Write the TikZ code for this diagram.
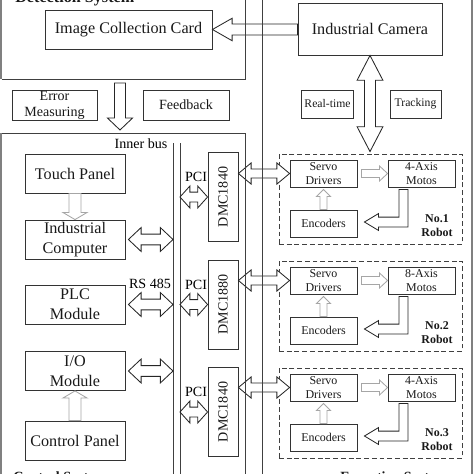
\documentclass[tikz,border=0pt]{standalone}
\usepackage{fontspec}
\usepackage{graphicx}
\setmainfont{Liberation Serif}
\usetikzlibrary{calc}

\tikzset{
  box/.style={draw=black!80, line width=0.6pt, inner sep=0pt, align=center, text=black!90},
  bigtxt/.style={font=\fontsize{11.5}{14}\selectfont},
  midtxt/.style={font=\fontsize{10}{11.5}\selectfont},
  smalltxt/.style={font=\fontsize{8.5}{9.5}\selectfont},
  hollow/.style={draw=black!85, fill=white, line width=0.6pt, line join=miter},
  lighthollow/.style={draw=black!35, fill=white, line width=0.6pt, line join=miter},
  robotbox/.style={draw=black!75, dash pattern=on 3.5pt off 2pt, line width=0.6pt,
    minimum width=4.575cm, minimum height=2.25cm, inner sep=0pt},
  frame/.style={draw=black!75, line width=0.6pt},
  edgeline/.style={draw=black!50, line width=1.8pt},
  systxt/.style={inner sep=0pt, text=black!90},
}

% hollow arrows: #1 style, #2 start, #3 tip, #4 head length, #5 head half width, #6 shaft half width
\newcommand{\hollowH}[6]{%
  \draw[#1] let \p1=#2, \p2=#3, \p3=($#3!#4!#2$) in
    (\x1,\y2+#6) -- (\x3,\y2+#6) -- (\x3,\y2+#5) -- (\p2) -- (\x3,\y2-#5)
    -- (\x3,\y2-#6) -- (\x1,\y2-#6) -- cycle;}
\newcommand{\hollowV}[6]{%
  \draw[#1] let \p1=#2, \p2=#3, \p3=($#3!#4!#2$) in
    (\x2+#6,\y1) -- (\x2+#6,\y3) -- (\x2+#5,\y3) -- (\p2) -- (\x2-#5,\y3)
    -- (\x2-#6,\y3) -- (\x2-#6,\y1) -- cycle;}
\newcommand{\dhollowH}[6]{%
  \draw[#1] let \p1=#2, \p2=#3, \p3=($#3!#4!#2$), \p4=($#2!#4!#3$) in
    (\p1) -- (\x4,\y1+#5) -- (\x4,\y1+#6) -- (\x3,\y1+#6) -- (\x3,\y1+#5) -- (\x2,\y1)
    -- (\x3,\y1-#5) -- (\x3,\y1-#6) -- (\x4,\y1-#6) -- (\x4,\y1-#5) -- cycle;}
\newcommand{\dhollowV}[6]{%
  \draw[#1] let \p1=#2, \p2=#3, \p3=($#3!#4!#2$), \p4=($#2!#4!#3$) in
    (\p1) -- (\x1+#5,\y4) -- (\x1+#6,\y4) -- (\x1+#6,\y3) -- (\x1+#5,\y3) -- (\x1,\y2)
    -- (\x1-#5,\y3) -- (\x1-#6,\y3) -- (\x1-#6,\y4) -- (\x1-#5,\y4) -- cycle;}

\begin{document}
\begin{tikzpicture}[x=0.025cm, y=-0.025cm]
	\useasboundingbox (0,0) rectangle (474,474);
	\clip (0,0) rectangle (474,474);
	% detection system
	\node[box,bigtxt,minimum width=4.175cm,minimum height=0.975cm] (icc) at (128.5,29.5) {Image Collection Card};
	\node[box,bigtxt,minimum width=3.6cm,minimum height=1.3cm] (cam) at (370,29) {Industrial Camera};
	\node[box,midtxt,minimum width=2.125cm,minimum height=0.75cm] (err) at (54.5,105) {Error\\Measuring};
	\node[box,midtxt,minimum width=2.15cm,minimum height=0.75cm] (fb) at (186,105) {Feedback};
	\node[box,font=\fontsize{8.3}{10}\selectfont,minimum width=1.3cm,minimum height=0.7cm] (rt) at (327.5,104) {Real-time};
	\node[box,font=\fontsize{8.3}{10}\selectfont,minimum width=1.275cm,minimum height=0.7cm] (tr) at (415.5,104) {Tracking};
	% control system
	\node[box,bigtxt,minimum width=2.5cm,minimum height=0.975cm] (tp) at (75,173.5) {Touch Panel};
	\node[box,bigtxt,minimum width=2.5cm,minimum height=0.975cm] (ic) at (75,239.5) {Industrial\\Computer};
	\node[box,bigtxt,minimum width=2.5cm,minimum height=0.975cm] (plc) at (75,304.5) {PLC\\Module};
	\node[box,bigtxt,minimum width=2.5cm,minimum height=0.975cm] (io) at (75,371) {I/O\\Module};
	\node[box,bigtxt,minimum width=2.5cm,minimum height=0.975cm] (cp) at (75,440.5) {Control Panel};
	\node[midtxt] (bustxt) at (141,144) {Inner bus};
	\node[midtxt] (rs) at (150,284) {RS 485};
	\coordinate (bus1) at (173,143);
	\coordinate (bus2) at (180,143);
	\draw[frame] (bus1) -- (173,480);
	\draw[frame] (bus2) -- (180,480);
	\hollowV{lighthollow}{(tp.south)}{(ic.north)}{5pt}{8.5pt}{4.3pt}
	\hollowV{lighthollow}{(cp.north)}{(io.south)}{5pt}{8.5pt}{4.3pt}
	\coordinate (icA) at ($(ic.east)+(3,0)$);
	\coordinate (plcA) at ($(plc.east)+(3,0)$);
	\coordinate (ioA) at ($(io.east)+(3,0)$);
	\dhollowH{hollow}{(icA)}{(ic.east -| bus1)}{9pt}{8.5pt}{3.8pt}
	\dhollowH{hollow}{(plcA)}{(plc.east -| bus1)}{9pt}{8.5pt}{3.8pt}
	\dhollowH{hollow}{(ioA)}{(io.east -| bus1)}{9pt}{8.5pt}{3.8pt}
	% execution system, one robot per row
	\foreach \i/\dmc/\ax/\num in {0/1840/4/1, 1/1880/8/2, 2/1840/4/3}{
		\node[robotbox] (r\i) at (370.5,{199+107*\i}) {};
		\node[box,smalltxt,minimum width=1.675cm,minimum height=0.675cm] (sd\i) at (323.5,{173.5+107*\i}) {Servo\\Drivers};
		\node[box,smalltxt,minimum width=1.675cm,minimum height=0.675cm] (mt\i) at (421.5,{173.5+107*\i}) {\ax-Axis\\Motos};
		\node[box,smalltxt,minimum width=1.675cm,minimum height=0.675cm] (en\i) at (323.5,{223.5+107*\i}) {Encoders};
		\node[align=center,text=black!90,font=\bfseries\fontsize{8.5}{10}\selectfont] (no\i) at (437,{226+107*\i}) {No.\num\\Robot};
		\node[box,midtxt,minimum width=0.75cm,minimum height=2.225cm] (dmc\i) at (223,{197+107.5*\i}) {\rotatebox{90}{DMC\dmc}};
		\node[midtxt] (pci\i) at (196,{177+107.5*\i}) {PCI};
		\dhollowH{hollow}{(dmc\i.west -| bus2)}{(dmc\i.west)}{7pt}{7.8pt}{3.5pt}
		\dhollowH{hollow}{(dmc\i.east |- sd\i.west)}{(sd\i.west)}{9pt}{7.5pt}{3.2pt}
		\coordinate (sa\i) at ($(sd\i.east)+(4,0)$);
		\hollowH{lighthollow}{(sa\i)}{(mt\i.west)}{5.7pt}{5.3pt}{2.8pt}
		\coordinate (eb\i) at ($(sd\i.south)+(0,2)$);
		\hollowV{lighthollow}{(en\i.north)}{(eb\i)}{5pt}{5pt}{2.5pt}
		\coordinate (ls\i) at ($(mt\i.south)+(-18,2)$);
		\coordinate (lt\i) at ($(en\i.east)+(7,-1.5)$);
		\draw[hollow] let \p1=(ls\i), \p2=(lt\i) in
			(\x1-3.2pt,\y1) -- (\x1-3.2pt,\y2+3.5pt) -- (\x2+10pt,\y2+3.5pt) -- (\x2+10pt,\y2+6pt) -- (\p2)
			-- (\x2+10pt,\y2-6pt) -- (\x2+10pt,\y2-3.5pt) -- (\x1+3.2pt,\y2-3.5pt) -- (\x1+3.2pt,\y1) -- cycle;
	}
	% links between the systems
	\hollowH{hollow}{(cam.west)}{(icc.east)}{14pt}{8pt}{3.9pt}
	\coordinate (camtip) at ($(r0.north)+(0,-2)$);
	\dhollowV{hollow}{(cam.south)}{(camtip)}{17.7pt}{9.2pt}{3.9pt}
	\coordinate (dn1) at (120,83);
	\coordinate (dn2) at (120,130);
	\hollowV{hollow}{(dn1)}{(dn2)}{8.5pt}{8.9pt}{3.9pt}
	% system frames
	\draw[frame] (2,79) -- (245,79) -- (245,-5);
	\draw[frame] (2,133) -- (245,133) -- (245,480);
	\draw[frame] (262,-5) -- (262,480);
	\draw[edgeline] (1.2,-5) -- (1.2,79);
	\draw[edgeline] (1.2,133) -- (1.2,480);
	\draw[edgeline] (472,-5) -- (472,480);
	\node[systxt,anchor=base west,font=\bfseries\fontsize{11.5}{12}\selectfont] (dettxt) at (15,2) {Detection System};
	\node[systxt,anchor=north west,font=\bfseries\fontsize{10}{12}\selectfont] (ctltxt) at (13,471.5) {Control System};
	\node[systxt,anchor=north west,font=\bfseries\fontsize{10}{12}\selectfont] (exetxt) at (340,471.5) {Execution System};
\end{tikzpicture}
\end{document}
